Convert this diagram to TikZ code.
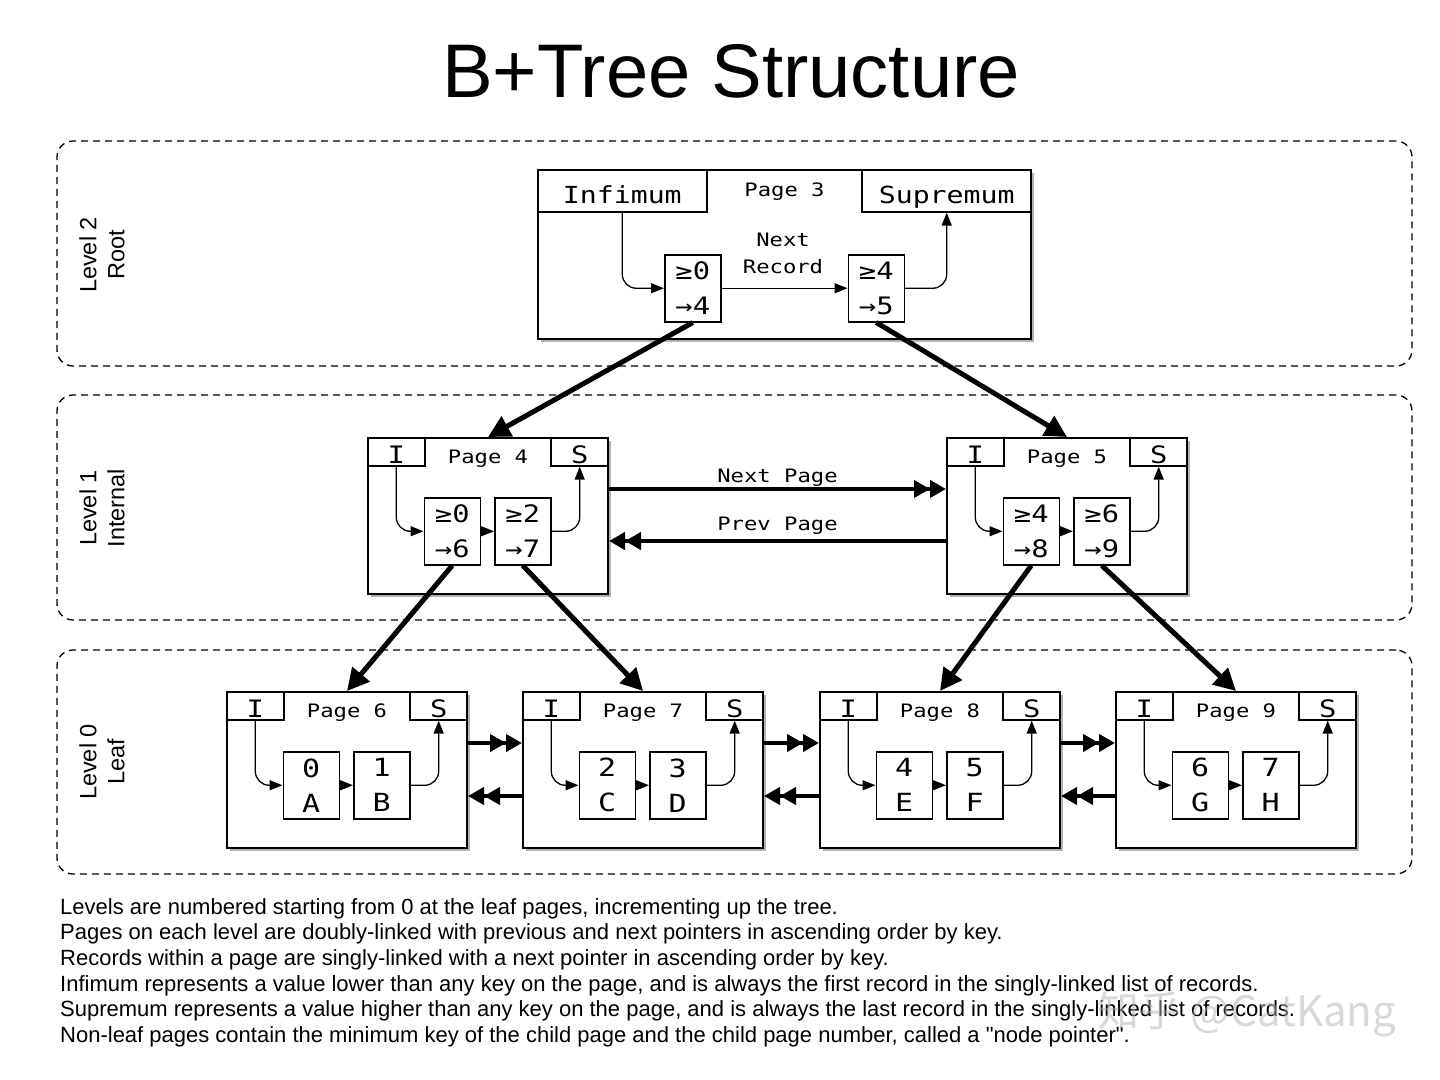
\documentclass[tikz,border=0pt]{standalone}
\usepackage{fontspec}
\setmainfont{Liberation Sans}
\newfontfamily\monofam[FakeStretch=1.2]{DejaVu Sans Mono}
\newfontfamily\cjkfam{Noto Sans CJK SC}
\usetikzlibrary{arrows.meta,calc,shadows}

\tikzset{
  levelbox/.style={draw, line width=1.3pt, dash pattern=on 7pt off 5pt, rounded corners=16pt, inner sep=0pt},
  levellabel/.style={rotate=90, align=center, font=\fontsize{23.5}{28}\selectfont, inner sep=0pt},
  pagebox/.style={draw, line width=2pt, fill=white, inner sep=0pt,
    drop shadow={shadow xshift=2.5pt, shadow yshift=-2.5pt, opacity=0.3, fill=black}},
  hdrbox/.style={draw, line width=1.6pt, inner sep=0pt, minimum height=28pt, minimum width=57pt,
    text height=24pt, text depth=0pt, font=\monofam\fontsize{24}{24}\selectfont},
  bighdr/.style={hdrbox, minimum height=42pt, minimum width=169pt, text height=26pt, font=\monofam\fontsize{23.5}{24}\selectfont},
  pagelabel/.style={font=\monofam\fontsize{18.5}{27}\selectfont, inner sep=0pt, align=center},
  recbox/.style={draw, line width=1.5pt, inner sep=0pt, minimum width=56pt, minimum height=67pt,
    align=center, font=\monofam\fontsize{24}{35}\selectfont},
  leafrec/.style={recbox, font=\monofam\fontsize{25}{35}\selectfont},
  thinarrow/.style={line width=1.3pt, -{Triangle[length=13pt,width=10pt]}, rounded corners=14pt},
  thickarrow/.style={line width=5pt, -{Triangle[length=22pt,width=22pt]}},
  linkarrow/.style={line width=4pt, -{Triangle[length=16pt,width=17pt]Triangle[length=16pt,width=17pt]}},
  linklabel/.style={font=\monofam\fontsize{18.5}{27}\selectfont, inner sep=0pt, anchor=base},
}

% name, left x, top y, page number, rec1 line1, rec1 line2, rec2 line1, rec2 line2, record style
\newcommand{\smallpage}[9]{%
  \node[pagebox, minimum width=240pt, minimum height=156pt, anchor=north west] (#1) at (#2,#3) {};
  \node[hdrbox, anchor=north west] (#1I) at (#1.north west) {I};
  \node[hdrbox, anchor=north east] (#1S) at (#1.north east) {S};
  \node[pagelabel, anchor=base] (#1L) at ($(#1.north)+(0,26)$) {Page #4};
  \node[#9, anchor=north west] (#1a) at ($(#1.north west)+(56.5,60)$) {#5\\#6};
  \node[#9, anchor=north west] (#1b) at ($(#1.north west)+(127,60)$) {#7\\#8};
  \draw[thinarrow] (#1I.south) |- (#1a.west);
  \draw[thinarrow] (#1a.east) -- (#1b.west);
  \draw[thinarrow] (#1b.east) -| (#1S.south);
}

\begin{document}
\begin{tikzpicture}[x=1pt,y=-1pt]
\useasboundingbox[fill=white] (0,0) rectangle (1440,1079);

% title
\node[anchor=base, inner sep=0pt, font=\fontsize{76}{76}\selectfont] (title) at (731,97) {B+Tree Structure};

% level boxes
\node[levelbox, minimum width=1355pt, minimum height=225pt] (L2) at (734.5,253.5) {};
\node[levelbox, minimum width=1355pt, minimum height=225pt] (L1) at (734.5,507.5) {};
\node[levelbox, minimum width=1355pt, minimum height=224pt] (L0) at (734.5,762) {};
\node[levellabel] (L2t) at (102,255) {Level~2\\Root};
\node[levellabel] (L1t) at (102,508) {Level~1\\Internal};
\node[levellabel] (L0t) at (102,762) {Level~0\\Leaf};

% root page
\node[pagebox, minimum width=493pt, minimum height=169pt, anchor=north west] (p3) at (537,169) {};
\node[bighdr, anchor=north west] (p3I) at (p3.north west) {Infimum};
\node[bighdr, anchor=north east] (p3S) at (p3.north east) {Supremum};
\node[pagelabel, anchor=base] (p3L) at ($(p3.north)+(0,27)$) {Page 3};
\node[recbox, anchor=north west] (p3a) at (664,254) {≥0\\→4};
\node[recbox, anchor=north west] (p3b) at (847.5,254) {≥4\\→5};
\node[pagelabel] (p3n) at (783,253) {Next\\Record};
\draw[thinarrow] (p3I.south) |- (p3a.west);
\draw[thinarrow] (p3a.east) -- (p3b.west);
\draw[thinarrow] (p3b.east) -| (p3S.south);

% internal pages
\smallpage{p4}{367}{437}{4}{≥0}{→6}{≥2}{→7}{recbox}
\smallpage{p5}{946}{437}{5}{≥4}{→8}{≥6}{→9}{recbox}

% leaf pages
\smallpage{p6}{226}{691}{6}{0}{A}{1}{B}{leafrec}
\smallpage{p7}{522}{691}{7}{2}{C}{3}{D}{leafrec}
\smallpage{p8}{819}{691}{8}{4}{E}{5}{F}{leafrec}
\smallpage{p9}{1115}{691}{9}{6}{G}{7}{H}{leafrec}

% node pointers
\draw[thickarrow] (p3a.south) -- (p4.north);
\draw[thickarrow] (p3b.south) -- (p5.north);
\draw[thickarrow] (p4a.south) -- (p6.north);
\draw[thickarrow] (p4b.south) -- (p7.north);
\draw[thickarrow] (p5a.south) -- (p8.north);
\draw[thickarrow] (p5b.south) -- (p9.north);

% page links, level 1
\draw[linkarrow] ($(p4.north east)+(0,52)$) -- node[linklabel, yshift=7pt] {Next Page} ($(p5.north west)+(0,52)$);
\draw[linkarrow] ($(p5.north west)+(0,104)$) -- node[linklabel, yshift=11pt] {Prev Page} ($(p4.north east)+(0,104)$);

% page links, level 0
\draw[linkarrow] ($(p6.north east)+(0,52)$) -- ($(p7.north west)+(0,52)$);
\draw[linkarrow] ($(p7.north west)+(0,105)$) -- ($(p6.north east)+(0,105)$);
\draw[linkarrow] ($(p7.north east)+(0,52)$) -- ($(p8.north west)+(0,52)$);
\draw[linkarrow] ($(p8.north west)+(0,105)$) -- ($(p7.north east)+(0,105)$);
\draw[linkarrow] ($(p8.north east)+(0,52)$) -- ($(p9.north west)+(0,52)$);
\draw[linkarrow] ($(p9.north west)+(0,105)$) -- ($(p8.north east)+(0,105)$);

% notes
\node[anchor=north west, align=left, inner sep=0pt, font=\fontsize{22}{25.7}\selectfont] (notes) at (60,898) {%
Levels are numbered starting from 0 at the leaf pages, incrementing up the tree.\\
Pages on each level are doubly-linked with previous and next pointers in ascending order by key.\\
Records within a page are singly-linked with a next pointer in ascending order by key.\\
Infimum represents a value lower than any key on the page, and is always the first record in the singly-linked list of records.\\
Supremum represents a value higher than any key on the page, and is always the last record in the singly-linked list of records.\\
Non-leaf pages contain the minimum key of the child page and the child page number, called a \textquotedbl node pointer\textquotedbl.};

% watermark
\node[anchor=west, inner sep=0pt, font=\cjkfam\fontsize{42}{42}\selectfont, text=black!30, opacity=0.5] (wm) at (1097,1014) {知乎 @CatKang};
\end{tikzpicture}
\end{document}
